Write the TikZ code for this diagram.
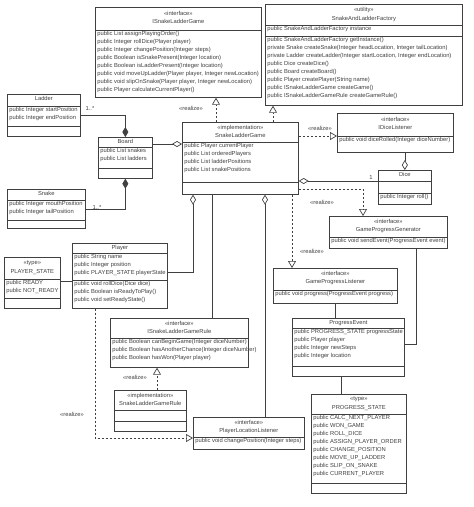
\documentclass[tikz,border=0pt]{standalone}
\usepackage{fontspec}
\setmainfont{Liberation Sans}
\usetikzlibrary{arrows.meta}
\begin{document}
\begin{tikzpicture}[x=1pt,y=-1pt,color=black!75,line width=0.7pt,
 cls/.style={draw,anchor=north west,inner sep=0pt,fill=white},
 hd/.style={anchor=north,inner sep=0pt,align=center,font=\fontsize{5.8}{8.5}\selectfont},
 txt/.style={anchor=north west,inner sep=0pt,align=left,font=\fontsize{5.8}{8}\selectfont},
 lbl/.style={inner sep=0pt,font=\fontsize{5.8}{7}\selectfont},
 realize/.style={dash pattern=on 2pt off 2pt,-{Triangle[open,length=7pt,width=8pt]}},
 aggr/.style={-{Diamond[open,length=10pt,width=6pt]}},
 comp/.style={-{Diamond[length=10pt,width=6pt]}}]
\useasboundingbox (0,0) rectangle (474,507);
\node[cls,minimum width=166pt,minimum height=90pt] (isgame) at (95,7) {};
\node[hd] (isgame-h) at ([yshift=-3.5]isgame.north) {«interface»\\ISnakeLadderGame};
\node[txt] (isgame-b) at ([xshift=2,yshift=-24]isgame.north west) {public List assignPlayingOrder()\\public Integer rollDice(Player player)\\public Integer changePosition(Integer steps)\\public Boolean isSnakePresent(Integer location)\\public Boolean isLadderPresent(Integer location)\\public void moveUpLadder(Player player, Integer newLocation)\\public void slipOnSnake(Player player, Integer newLocation)\\public Player calculateCurrentPlayer()};
\node[cls,minimum width=197pt,minimum height=101pt] (factory) at (265,4) {};
\node[hd] (factory-h) at ([yshift=-3]factory.north) {«utility»\\SnakeAndLadderFactory};
\node[txt] (factory-a) at ([xshift=2,yshift=-22]factory.north west) {public SnakeAndLadderFactory instance};
\node[txt] (factory-b) at ([xshift=2,yshift=-33]factory.north west) {public SnakeAndLadderFactory getInstance()\\private Snake createSnake(Integer headLocation, Integer tailLocation)\\private Ladder createLadder(Integer startLocation, Integer endLocation)\\public Dice createDice()\\public Board createBoard()\\public Player createPlayer(String name)\\public ISnakeLadderGame createGame()\\public ISnakeLadderGameRule createGameRule()};
\node[cls,minimum width=116pt,minimum height=39pt] (diceL) at (337,113) {};
\node[hd] (diceL-h) at ([yshift=-3.5]diceL.north) {«interface»\\IDiceListener};
\node[txt] (diceL-b) at ([xshift=2,yshift=-24]diceL.north west) {public void diceRolled(Integer diceNumber)};
\node[cls,minimum width=73pt,minimum height=42pt] (ladder) at (7,94) {};
\node[hd] (ladder-h) at ([yshift=-2]ladder.north) {Ladder};
\node[txt] (ladder-a) at ([xshift=2,yshift=-13]ladder.north west) {public Integer startPosition\\public Integer endPosition};
\node[cls,minimum width=54pt,minimum height=41pt] (board) at (98,137) {};
\node[hd] (board-h) at ([yshift=-2]board.north) {Board};
\node[txt] (board-a) at ([xshift=2,yshift=-11]board.north west) {public List snakes\\public List ladders};
\node[cls,minimum width=78pt,minimum height=39pt] (snake) at (7,189) {};
\node[hd] (snake-h) at ([yshift=-2]snake.north) {Snake};
\node[txt] (snake-a) at ([xshift=2,yshift=-12]snake.north west) {public Integer mouthPosition\\public Integer tailPosition};
\node[cls,minimum width=116pt,minimum height=72pt] (game) at (182,122) {};
\node[hd] (game-h) at ([yshift=-2.5]game.north) {«implementation»\\SnakeLadderGame};
\node[txt] (game-a) at ([xshift=2,yshift=-21]game.north west) {public Player currentPlayer\\public List orderedPlayers\\public List ladderPositions\\public List snakePositions};
\node[cls,minimum width=53pt,minimum height=34pt] (dice) at (378,170) {};
\node[hd] (dice-h) at ([yshift=-2]dice.north) {Dice};
\node[txt] (dice-b) at ([xshift=2,yshift=-24]dice.north west) {public Integer roll()};
\node[cls,minimum width=118pt,minimum height=32pt] (gpGen) at (329,216) {};
\node[hd] (gpGen-h) at ([yshift=-2.5]gpGen.north) {«interface»\\GameProgressGenerator};
\node[txt] (gpGen-b) at ([xshift=2,yshift=-22]gpGen.north west) {public void sendEvent(ProgressEvent event)};
\node[cls,minimum width=124pt,minimum height=35pt] (gpLis) at (273,268) {};
\node[hd] (gpLis-h) at ([yshift=-2.5]gpLis.north) {«interface»\\GameProgressListener};
\node[txt] (gpLis-b) at ([xshift=2,yshift=-23]gpLis.north west) {public void progress(ProgressEvent progress)};
\node[cls,minimum width=112pt,minimum height=58pt] (pEvent) at (292,318) {};
\node[hd] (pEvent-h) at ([yshift=-2]pEvent.north) {ProgressEvent};
\node[txt] (pEvent-a) at ([xshift=2,yshift=-11]pEvent.north west) {public PROGRESS\_STATE progressState\\public Player player\\public Integer newSteps\\public Integer location};
\node[cls,minimum width=95pt,minimum height=99pt] (pState) at (311,394) {};
\node[hd] (pState-h) at ([yshift=-2.5]pState.north) {«type»\\PROGRESS\_STATE};
\node[txt] (pState-a) at ([xshift=2,yshift=-21]pState.north west) {public CALC\_NEXT\_PLAYER\\public WON\_GAME\\public ROLL\_DICE\\public ASSIGN\_PLAYER\_ORDER\\public CHANGE\_POSITION\\public MOVE\_UP\_LADDER\\public SLIP\_ON\_SNAKE\\public CURRENT\_PLAYER};
\node[cls,minimum width=95pt,minimum height=65pt] (player) at (72,243) {};
\node[hd] (player-h) at ([yshift=-2]player.north) {Player};
\node[txt] (player-a) at ([xshift=2,yshift=-11]player.north west) {public String name\\public Integer position\\public PLAYER\_STATE playerState};
\node[txt] (player-b) at ([xshift=2,yshift=-38]player.north west) {public void rollDice(Dice dice)\\public Boolean isReadyToPlay()\\public void setReadyState()};
\node[cls,minimum width=56pt,minimum height=51pt] (pEnum) at (4,257) {};
\node[hd] (pEnum-h) at ([yshift=-3.5]pEnum.north) {«type»\\PLAYER\_STATE};
\node[txt] (pEnum-a) at ([xshift=2,yshift=-23]pEnum.north west) {public READY\\public NOT\_READY};
\node[cls,minimum width=138pt,minimum height=49pt] (ruleI) at (110,318) {};
\node[hd] (ruleI-h) at ([yshift=-2.5]ruleI.north) {«interface»\\ISnakeLadderGameRule};
\node[txt] (ruleI-b) at ([xshift=2,yshift=-21]ruleI.north west) {public Boolean canBeginGame(Integer diceNumber)\\public Boolean hasAnotherChance(Integer diceNumber)\\public Boolean hasWon(Player player)};
\node[cls,minimum width=72pt,minimum height=41pt] (ruleImpl) at (114,390) {};
\node[hd] (ruleImpl-h) at ([yshift=-2.5]ruleImpl.north) {«implementation»\\SnakeLadderGameRule};
\node[cls,minimum width=111pt,minimum height=32pt] (locL) at (193,417) {};
\node[hd] (locL-h) at ([yshift=-2.5]locL.north) {«interface»\\PlayerLocationListener};
\node[txt] (locL-b) at ([xshift=2,yshift=-21]locL.north west) {public void changePosition(Integer steps)};
\foreach \n/\d in {isgame/23,factory/21,factory/32,diceL/23,ladder/12,ladder/32,board/10,board/31,snake/11,snake/31,game/20,game/60,dice/11,dice/23,gpGen/21,gpLis/22,pEvent/10,pEvent/48,pState/20,pState/89,player/10,player/37,pEnum/22,pEnum/41,ruleI/20,ruleImpl/20,ruleImpl/31,locL/20}
  \draw ([yshift=-\d]\n.north west) -- ([yshift=-\d]\n.north east);
\coordinate (g0) at ([xshift=34]game.north west);
\coordinate (f0) at ([xshift=8]factory.south west);
\coordinate (dl0) at ([yshift=-23]diceL.north west);
\coordinate (d0) at ([yshift=-11]dice.north west);
\coordinate (gg0) at ([xshift=34]gpGen.north west);
\coordinate (gg1) at ([xshift=87]gpGen.south west);
\coordinate (b0) at ([yshift=-7]board.north east);
\coordinate (g1) at ([xshift=11]game.south west);
\coordinate (g2) at ([xshift=30]game.south west);
\coordinate (g3) at ([xshift=83]game.south west);
\coordinate (g4) at ([xshift=110]game.south west);
\coordinate (pe0) at ([xshift=49]pEvent.south west);
\coordinate (p0) at ([xshift=23]player.south west);
\coordinate (l0) at ([yshift=-21]locL.north west);
\coordinate (ri0) at ([xshift=43]ruleImpl.north west);
\draw[realize] (g0) -- (g0 |- isgame.south);
\draw[realize] (f0 |- game.north) -- (f0);
\draw[realize] (dl0 -| game.east) -- (dl0);
\draw[aggr] (dice.north |- diceL.south) -- (dice.north);
\draw[aggr] (d0) -- (d0 -| game.east);
\draw[realize] ([yshift=-67]game.north east) -| (gg0);
\draw[aggr] (b0) -- (b0 -| game.west);
\draw[comp] (ladder.east) -| (board.north);
\draw[comp] (snake.east) -| (board.south);
\draw[aggr] ([yshift=4]player.east) -| (g1);
\draw (g2) -- (g2 |- ruleI.north);
\draw[aggr] (g3 |- locL.north) -- (g3);
\draw[realize] (g4) -- (g4 |- gpLis.north);
\draw (gpLis.south) -- (gpLis.south |- pEvent.north);
\draw ([yshift=3]pEvent.east) -| (gg1);
\draw (pe0) -- (pe0 |- pState.north);
\draw ([yshift=2]pEnum.east) -- ([yshift=2]pEnum.east -| player.west);
\draw[realize] (p0) |- (l0);
\draw[realize] (ri0) -- (ri0 |- ruleI.south);
\node[lbl] (m-lad) at (90,109) {1..*};
\node[lbl] (m-snk) at (97,208) {1..*};
\node[lbl] (m-dice) at (371,177) {1};
\node[lbl] (r-game) at (191,108) {«realize»};
\node[lbl] (r-dice) at (320,128) {«realize»};
\node[lbl] (r-gen) at (322,202) {«realize»};
\node[lbl] (r-lis) at (312,251) {«realize»};
\node[lbl] (r-rule) at (135,377) {«realize»};
\node[lbl] (r-loc) at (72,414) {«realize»};
\end{tikzpicture}
\end{document}
